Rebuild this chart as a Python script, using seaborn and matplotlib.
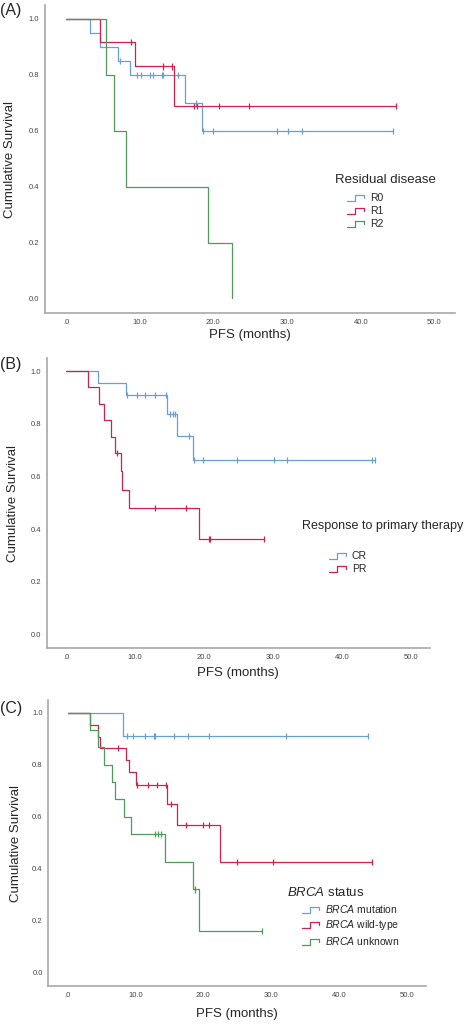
import numpy as np
import pandas as pd
import matplotlib
matplotlib.use("Agg")
import matplotlib.pyplot as plt
import seaborn as sns
from matplotlib.lines import Line2D
from matplotlib.legend_handler import HandlerLine2D

# ---- data (months, survival) ----
# (A) residual disease
r0_events = [3.3, 4.6, 7.1, 8.7, 16.2, 18.5]
r0_surv = [0.95, 0.90, 0.85, 0.80, 0.70, 0.60]
r0_censor = [7.3, 9.6, 10.2, 11.4, 11.8, 13.0, 13.1, 15.2, 17.7, 18.6, 19.9, 28.6, 30.2, 32.1, 44.4]

r1_events = [4.6, 9.3, 14.7]
r1_surv = [0.917, 0.83, 0.688]
r1_censor = [8.8, 13.1, 14.4, 17.4, 17.8, 20.7, 24.8, 44.8]

r2_events = [5.4, 6.5, 8.2, 19.3, 22.5]
r2_surv = [0.8, 0.6, 0.4, 0.2, 0.0]
r2_censor = []

# (B) response to primary therapy
cr_events = [4.6, 8.7, 14.6, 16.1, 18.4]
cr_surv = [0.955, 0.909, 0.838, 0.755, 0.662]
cr_censor = [8.8, 10.2, 11.4, 12.9, 14.4, 15.1, 15.5, 15.8, 17.8, 18.6, 19.8, 24.8, 30.2, 32.0, 44.4, 44.8]

pr_events = [3.2, 4.7, 5.4, 6.5, 7.0, 8.0, 8.1, 9.1, 19.3]
pr_surv = [0.938, 0.875, 0.813, 0.75, 0.688, 0.619, 0.55, 0.481, 0.361]
pr_censor = [7.3, 12.9, 17.4, 20.7, 20.8, 28.7]

# (C) BRCA status
mut_events = [8.2]
mut_surv = [0.91]
mut_censor = [8.8, 9.7, 11.4, 12.7, 12.9, 15.7, 17.8, 20.8, 32.1, 44.3]

wt_events = [3.3, 4.5, 4.8, 8.6, 9.1, 10.0, 14.7, 16.1, 22.5]
wt_surv = [0.955, 0.909, 0.864, 0.818, 0.773, 0.722, 0.65, 0.569, 0.427]
wt_censor = [7.4, 10.2, 11.8, 13.1, 14.5, 15.2, 17.5, 20.0, 20.9, 24.9, 30.3, 44.8]

unk_events = [3.3, 4.5, 5.4, 6.5, 7.05, 8.3, 9.3, 14.4, 18.5, 19.3]
unk_surv = [0.933, 0.867, 0.8, 0.733, 0.667, 0.6, 0.533, 0.427, 0.32, 0.16]
unk_censor = [12.9, 13.3, 13.7, 18.8, 28.7]

x_ticks = [0, 10, 20, 30, 40, 50]
x_ticklabels = [".0", "10.0", "20.0", "30.0", "40.0", "50.0"]
y_ticks = [0.0, 0.2, 0.4, 0.6, 0.8, 1.0]
y_ticklabels = ["0.0", "0.2", "0.4", "0.6", "0.8", "1.0"]

BLUE = "#6a9fd6"
RED = "#d0204d"
GREEN = "#4f9a58"

W, H = 470, 1026

sns.set_style("white")
plt.rcParams["font.family"] = ["Liberation Sans", "DejaVu Sans"]
plt.rcParams["mathtext.fontset"] = "custom"
plt.rcParams["mathtext.rm"] = "Liberation Sans"
plt.rcParams["mathtext.it"] = "Liberation Sans:italic"


def fx(px):
    return px / W


def fy(py):
    return 1 - py / H


class StepHandler(HandlerLine2D):
    def create_artists(self, legend, orig_handle, xdescent, ydescent,
                       width, height, fontsize, trans):
        xs = np.array([0, 0.5, 0.5, 1.0, 1.0]) * width - xdescent
        ys = np.array([0.1, 0.1, 0.8, 0.8, 0.45]) * height - ydescent
        ln = Line2D(xs, ys, color=orig_handle.get_color(), lw=0.9)
        ln.set_transform(trans)
        return [ln]


def build_frames(groups):
    steps, cens = [], []
    for g in groups:
        name, ev, sv, cs = g[:4]
        t = [0.0] + list(ev)
        s = [1.0] + list(sv)
        if cs and max(cs) > t[-1]:
            t.append(max(cs))
            s.append(s[-1])
        for a, b in zip(t, s):
            steps.append({"group": name, "time": a, "surv": b})
        ev_arr = np.array(ev)
        sv_arr = np.array([1.0] + list(sv))
        for c in cs:
            idx = np.searchsorted(ev_arr, c, side="right")
            cens.append({"group": name, "time": c, "surv": sv_arr[idx]})
    return pd.DataFrame(steps), pd.DataFrame(cens, columns=["group", "time", "surv"])


def km_panel(fig, rect, groups, palette, letter, letter_y, xlab_y, ylab_x,
             title, title_xy, leg_xy, title_size=9.5):
    ax = fig.add_axes(rect)
    df, cdf = build_frames(groups)
    names = [g[0] for g in groups]
    sns.lineplot(data=df, x="time", y="surv", hue="group", hue_order=names,
                 palette=palette, drawstyle="steps-post", estimator=None,
                 sort=False, lw=0.9, legend=False, ax=ax)
    if not cdf.empty:
        sns.scatterplot(data=cdf, x="time", y="surv", hue="group", hue_order=names,
                        palette=palette, marker="|", s=20, linewidth=0.9,
                        legend=False, ax=ax)
    ax.set_xlim(-2.85, 52.8)
    ax.set_ylim(-0.052, 1.05)
    ax.set_xticks(x_ticks)
    ax.set_xticklabels(x_ticklabels)
    ax.set_yticks(y_ticks)
    ax.set_yticklabels(y_ticklabels)
    ax.tick_params(length=0, labelsize=5.5, labelcolor="#444444", pad=4)
    sns.despine(ax=ax)
    for sp in ["left", "bottom"]:
        ax.spines[sp].set_color("#a8a8a8")
        ax.spines[sp].set_linewidth(1.2)
    ax.grid(False)

    ax.set_xlabel("PFS (months)", fontsize=9.5)
    ax.xaxis.label.set_verticalalignment("center")
    ax.xaxis.set_label_coords(rect[0] + rect[2] / 2, fy(xlab_y), transform=fig.transFigure)
    ax.set_ylabel("Cumulative Survival", fontsize=9.5)
    ax.yaxis.label.set_verticalalignment("center")
    ax.yaxis.set_label_coords(fx(ylab_x), rect[1] + rect[3] / 2, transform=fig.transFigure)

    fig.text(0, fy(letter_y), letter, fontsize=11.5, va="center", ha="left")
    fig.text(fx(title_xy[0]), fy(title_xy[1]), title, fontsize=title_size,
             va="center", ha="left")

    handles = [Line2D([], [], color=palette[n], lw=0.9) for n in names]
    labels = [g[4] if len(g) > 4 else g[0] for g in groups]
    ax.legend(handles, labels, handler_map={Line2D: StepHandler()},
              loc="upper left", bbox_to_anchor=(fx(leg_xy[0]), fy(leg_xy[1])),
              bbox_transform=fig.transFigure, frameon=False, fontsize=7.5,
              handlelength=1.6, handleheight=0.8, handletextpad=0.6,
              labelspacing=0.3, borderpad=0, borderaxespad=0)
    return ax


fig = plt.figure(figsize=(W / 100, H / 100), dpi=100)

# (A)
km_panel(fig, [fx(45), fy(313), fx(455) - fx(45), fy(5) - fy(313)],
         [("R0", r0_events, r0_surv, r0_censor),
          ("R1", r1_events, r1_surv, r1_censor),
          ("R2", r2_events, r2_surv, r2_censor)],
         {"R0": BLUE, "R1": RED, "R2": GREEN}, "(A)", 10, 335, 10,
         "Residual disease", (335, 180), (347, 193))

# (B)
km_panel(fig, [fx(46.7), fy(648), fx(430) - fx(46.7), fy(358) - fy(648)],
         [("CR", cr_events, cr_surv, cr_censor),
          ("PR", pr_events, pr_surv, pr_censor)],
         {"CR": BLUE, "PR": RED}, "(B)", 364, 673, 13,
         "Response to primary therapy", (302, 526), (329, 551), title_size=9)

# (C)
km_panel(fig, [fx(48.3), fy(986), fx(426) - fx(48.3), fy(700) - fy(986)],
         [("mut", mut_events, mut_surv, mut_censor, r"$\it{BRCA}$ mutation"),
          ("wt", wt_events, wt_surv, wt_censor, r"$\it{BRCA}$ wild-type"),
          ("unk", unk_events, unk_surv, unk_censor, r"$\it{BRCA}$ unknown")],
         {"mut": BLUE, "wt": RED, "unk": GREEN}, "(C)", 708, 1014, 16,
         r"$\it{BRCA}$ status", (287, 893), (302, 903))

fig.savefig("out.png", dpi=100)
